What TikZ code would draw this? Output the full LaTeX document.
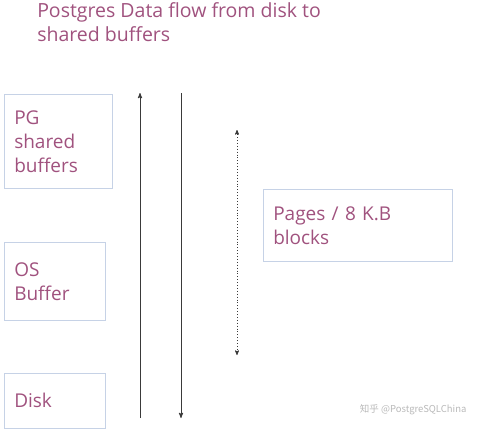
\documentclass[tikz,border=0pt]{standalone}
\usepackage{fontspec}
\setmainfont{Open Sans}
\newfontfamily\cjk{Noto Sans CJK SC}
\usetikzlibrary{%
  arrows,%
  positioning,% wg. " of "
  calc
}
\definecolor{flowtext}{HTML}{A0527E}
\definecolor{boxline}{HTML}{C6D2E6}
\definecolor{arrowgray}{HTML}{3A3A3A}

\begin{document}
\begin{tikzpicture}[
  x=1pt, y=-1pt,
  font=\fontsize{19}{24}\selectfont, >=stealth', line width=0.5pt,
  layerbox/.style={rectangle, anchor=north west, draw=boxline, text=flowtext, align=left, inner xsep=10pt},
  flowline/.style={draw=arrowgray, line width=0.9pt}
]
\useasboundingbox (0,0) rectangle (477,434);

\node[anchor=north west, text=flowtext, align=left, inner sep=0pt, font=\fontsize{19.5}{24}\selectfont] (title) at (37,2) {Postgres Data flow from disk to\\shared buffers};

\node[layerbox, text width=88pt, minimum height=94pt] (pgbuf) at (4,94) {PG\\shared\\buffers};
\node[layerbox, text width=81pt, minimum height=78pt] (osbuf) at (4,242) {OS\\Buffer};
\node[layerbox, text width=81pt, minimum height=55pt] (disk) at (4,373) {Disk};
\node[layerbox, text width=169pt, minimum height=72pt] (pages) at (263,189) {Pages / 8 K.B\\blocks};

\coordinate (up1) at (140,418);
\coordinate (up2) at (140,93);
\coordinate (dn1) at (181,93);
\coordinate (dn2) at (181,418);
\coordinate (pg1) at (237,130);
\coordinate (pg2) at (237,355);

\draw[flowline,->] (up1) -- (up2);
\draw[flowline,->] (dn1) -- (dn2);
\draw[flowline,<->,dotted,line width=0.7pt] (pg1) -- (pg2);

\node[text=gray!55, anchor=east, font=\cjk\fontsize{9.5}{12}\selectfont] (mark) at (470,410) {知乎 @PostgreSQLChina};

\end{tikzpicture}
\end{document}
